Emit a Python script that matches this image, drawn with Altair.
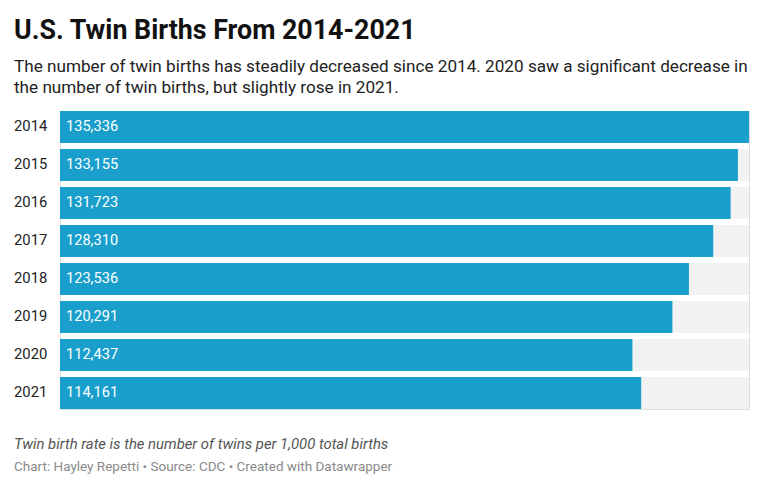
import altair as alt
import pandas as pd

years = ["2014", "2015", "2016", "2017", "2018", "2019", "2020", "2021"]
births = [135336, 133155, 131723, 128310, 123536, 120291, 112437, 114161]
labels = ["135,336", "133,155", "131,723", "128,310", "123,536", "120,291", "112,437", "114,161"]

title = "U.S. Twin Births From 2014-2021"
subtitle = [
    "The number of twin births has steadily decreased since 2014. 2020 saw a significant decrease in",
    "the number of twin births, but slightly rose in 2021.",
]
note = "Twin birth rate is the number of twins per 1,000 total births"
credit = "Chart: Hayley Repetti \u2022 Source: CDC \u2022 Created with Datawrapper"

df = pd.DataFrame({"year": years, "births": births, "label": labels})

W = 689
H = 298
FONT = "Roboto"

y_enc = alt.Y("year:N", sort=years, axis=None,
              scale=alt.Scale(paddingInner=6 / 38, paddingOuter=0))
x_scale = alt.Scale(domain=[0, max(births)], nice=False, zero=True)

base = alt.Chart(df)

bg = base.mark_bar(color="#f2f2f2").encode(
    y=y_enc, x=alt.value(0), x2=alt.value(W)
)
bars = base.mark_bar(color="#1a9fcc").encode(
    y=y_enc, x=alt.X("births:Q", scale=x_scale, axis=None)
)
vals = base.mark_text(align="left", baseline="middle", dx=6, color="#ffffff",
                      font=FONT, fontSize=14.6).encode(
    y=y_enc, x=alt.value(0), text="label:N"
)
yrs = base.mark_text(align="left", baseline="middle", color="#222222",
                     font=FONT, fontSize=14.8).encode(
    y=y_enc, x=alt.value(-46), text="year:N"
)

note_t = alt.Chart(pd.DataFrame({"t": [note]})).mark_text(
    align="left", baseline="alphabetic", font=FONT, fontSize=14.85, fontStyle="italic",
    color="#555555").encode(x=alt.value(-46), y=alt.value(H + 40), text="t:N")
credit_t = alt.Chart(pd.DataFrame({"t": [credit]})).mark_text(
    align="left", baseline="alphabetic", font=FONT, fontSize=13.5,
    color="#8a8a8a").encode(x=alt.value(-46), y=alt.value(H + 62), text="t:N")

chart = alt.layer(bg, bars, vals, yrs, note_t, credit_t).properties(
    width=W, height=H,
    autosize=alt.AutoSizeParams(type="none"),
    padding={"left": 52, "top": 103, "right": 5, "bottom": 70},
    title=alt.TitleParams(
        text=title, subtitle=subtitle, anchor="start",
        font=FONT, fontSize=26.8, fontWeight="bold", color="#111111",
        subtitleFont=FONT, subtitleFontSize=17.15, subtitleColor="#222222",
        subtitleLineHeight=21, subtitlePadding=13, offset=15,
    ),
).configure_view(stroke=None).configure(background="#ffffff")

chart.save("out.html", embed_options={"renderer": "svg", "actions": False})
